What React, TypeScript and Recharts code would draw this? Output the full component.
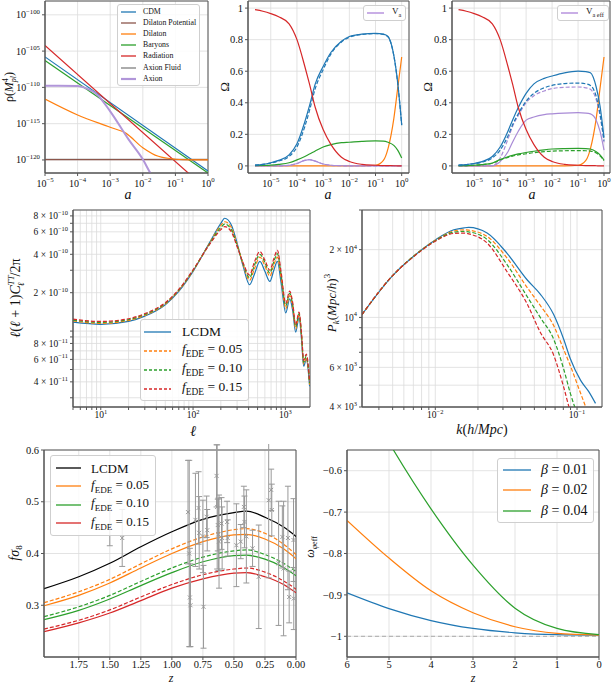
import React from "react";
import {
  ComposedChart,
  Line,
  Scatter,
  ErrorBar,
  XAxis,
  YAxis,
  CartesianGrid,
  Legend,
  ReferenceArea,
  ReferenceLine,
} from "recharts";

const FONT = "'Liberation Serif', 'DejaVu Serif', serif";
const BLUE = "#1f77b4";
const ORANGE = "#ff7f0e";
const GREEN = "#2ca02c";
const RED = "#d62728";
const BROWN = "#8c564b";
const GRAY = "#7f7f7f";
const LAVENDER = "#b196d9";
const PURPLE_L = "#a98bd6";
const GRID = "#dcdcdc";
const SPINE = "#555";
const DASH = "4 2";

// ---- panel 1: energy densities rho(a) ----
const aRhoLine = [1e-5, 1];
const rhoCdm = [1.6e-106, 3e-122];
const rhoBaryons = [5e-107, 1.6e-122];
const rhoRadiation = [6e-105, 6e-125];
const rhoDilatonPot = [1.1e-120, 1.1e-120];
const rhoAxionFluid = [1.2e-120, 1.2e-120];
const aDilaton = [1e-5, 1e-4, 1e-3, 3e-3, 1e-2, 3e-2, 1e-1, 0.3, 1];
const rhoDilaton = [2.5e-112, 1.6e-114, 3.2e-116, 5e-117, 5e-119, 3.2e-120, 1.26e-120, 1e-120, 1e-120];
const aAxion = [1e-5, 1e-4, 2e-4, 4e-4, 1e-3, 3.7e-3, 1e-2, 1.7e-2, 3e-2];
const rhoAxion = [1.7e-110, 1.6e-110, 6.3e-111, 1e-111, 5e-114, 6.3e-118, 1.26e-120, 1.6e-122, 3.2e-124];
const decadeTicks = [1e-5, 1e-4, 1e-3, 1e-2, 1e-1, 1];
const rhoTicks = [1e-120, 1e-115, 1e-110, 1e-105, 1e-100];

// ---- panels 2 & 3: density fractions Omega(a) ----
const aOm = [2.5e-6, 5e-6, 1e-5, 2e-5, 5e-5, 1e-4, 2e-4, 3e-4, 5e-4, 1e-3, 2e-3, 5e-3, 1e-2, 3e-2, 0.1, 0.2, 0.3, 0.5, 0.7, 1];
const omRad = [0.99, 0.98, 0.965, 0.945, 0.9, 0.8, 0.63, 0.52, 0.37, 0.23, 0.135, 0.055, 0.028, 0.01, 0.004, 0.002, 0.0015, 0.001, 0.0005, 0.0003];
const omCdm = [0.005, 0.01, 0.02, 0.035, 0.07, 0.14, 0.28, 0.38, 0.52, 0.63, 0.72, 0.79, 0.82, 0.835, 0.84, 0.835, 0.82, 0.7, 0.53, 0.26];
const omCdmAlt = [0.005, 0.01, 0.018, 0.03, 0.06, 0.12, 0.25, 0.35, 0.49, 0.61, 0.71, 0.785, 0.815, 0.833, 0.838, 0.833, 0.818, 0.698, 0.528, 0.258];
const omBar = [0.002, 0.003, 0.005, 0.01, 0.02, 0.038, 0.06, 0.075, 0.095, 0.12, 0.135, 0.147, 0.15, 0.155, 0.158, 0.157, 0.15, 0.13, 0.1, 0.05];
const omDil = [0, 0, 0, 0, 0, 0, 0, 0, 0, 0, 0, 0, 0, 0, 0.004, 0.035, 0.11, 0.3, 0.49, 0.69];
const omVa = [0, 0, 0, 0, 0.003, 0.015, 0.035, 0.04, 0.03, 0.012, 0.004, 0.001, 0, 0, 0, 0, 0, 0, 0, 0];
const omCdmEff = [0.005, 0.008, 0.015, 0.027, 0.06, 0.12, 0.22, 0.29, 0.37, 0.46, 0.52, 0.555, 0.57, 0.59, 0.6, 0.598, 0.59, 0.5, 0.38, 0.18];
const omCdmEffDash = [0.005, 0.008, 0.014, 0.024, 0.05, 0.1, 0.19, 0.26, 0.33, 0.41, 0.46, 0.495, 0.51, 0.522, 0.525, 0.52, 0.51, 0.44, 0.33, 0.16];
const omVaEff = [0, 0, 0, 0, 0, 0.027, 0.09, 0.15, 0.22, 0.29, 0.31, 0.325, 0.33, 0.335, 0.337, 0.335, 0.33, 0.29, 0.22, 0.1];
const omVaEffDash = [0, 0, 0, 0, 0.002, 0.05, 0.17, 0.25, 0.32, 0.4, 0.445, 0.475, 0.49, 0.498, 0.5, 0.495, 0.485, 0.42, 0.32, 0.15];
const omBarEff = [0.001, 0.002, 0.004, 0.008, 0.018, 0.04, 0.058, 0.067, 0.076, 0.085, 0.093, 0.102, 0.107, 0.11, 0.111, 0.11, 0.107, 0.09, 0.07, 0.037];
const omBarEffDash = [0.001, 0.002, 0.004, 0.008, 0.017, 0.038, 0.054, 0.062, 0.07, 0.077, 0.084, 0.09, 0.094, 0.096, 0.097, 0.096, 0.094, 0.082, 0.064, 0.033];
const omTicks = [0, 0.2, 0.4, 0.6, 0.8, 1];

// ---- panel 4: CMB TT spectrum ----
const ells = [5, 10, 20, 30, 50, 70, 100, 150, 200, 220, 260, 300, 350, 410, 460, 530, 600, 680, 750, 820, 900, 1010, 1115, 1200, 1294, 1406, 1500, 1579, 1687, 1832];
const clLcdm = [1.175e-10, 1.13e-10, 1.19e-10, 1.31e-10, 1.61e-10, 2.05e-10, 2.94e-10, 4.9e-10, 7.0e-10, 7.67e-10, 6.8e-10, 4.9e-10, 3.2e-10, 2.31e-10, 2.77e-10, 3.52e-10, 2.94e-10, 2.45e-10, 3.0e-10, 3.52e-10, 2.38e-10, 1.39e-10, 1.79e-10, 1.45e-10, 9.8e-11, 1.27e-10, 8.5e-11, 5.3e-11, 6.0e-11, 3.7e-11];
const cl005 = [1.2e-10, 1.15e-10, 1.21e-10, 1.33e-10, 1.63e-10, 2.08e-10, 2.97e-10, 4.85e-10, 6.75e-10, 7.2e-10, 6.5e-10, 4.8e-10, 3.3e-10, 2.5e-10, 3.05e-10, 3.8e-10, 3.25e-10, 2.7e-10, 3.3e-10, 3.8e-10, 2.6e-10, 1.5e-10, 1.9e-10, 1.55e-10, 1.04e-10, 1.33e-10, 8.9e-11, 5.5e-11, 6.2e-11, 3.8e-11];
const cl010 = [1.22e-10, 1.17e-10, 1.23e-10, 1.35e-10, 1.65e-10, 2.1e-10, 3.0e-10, 4.8e-10, 6.5e-10, 6.9e-10, 6.25e-10, 4.7e-10, 3.35e-10, 2.62e-10, 3.25e-10, 4.0e-10, 3.45e-10, 2.85e-10, 3.5e-10, 4.05e-10, 2.75e-10, 1.58e-10, 1.98e-10, 1.62e-10, 1.08e-10, 1.37e-10, 9.2e-11, 5.7e-11, 6.4e-11, 3.9e-11];
const cl015 = [1.24e-10, 1.19e-10, 1.25e-10, 1.37e-10, 1.67e-10, 2.12e-10, 3.02e-10, 4.75e-10, 6.25e-10, 6.6e-10, 6.0e-10, 4.6e-10, 3.4e-10, 2.75e-10, 3.45e-10, 4.2e-10, 3.6e-10, 3.0e-10, 3.7e-10, 4.3e-10, 2.9e-10, 1.65e-10, 2.06e-10, 1.68e-10, 1.12e-10, 1.41e-10, 9.5e-11, 5.9e-11, 6.6e-11, 4.0e-11];
const ellTicks = [5, 6, 7, 8, 9, 10, 20, 30, 40, 50, 60, 70, 80, 90, 100, 200, 300, 400, 500, 600, 700, 800, 900, 1000];
const ellLabels = [10, 100, 1000];
const clTicks = [3e-11, 4e-11, 5e-11, 6e-11, 7e-11, 8e-11, 9e-11, 1e-10, 2e-10, 3e-10, 4e-10, 5e-10, 6e-10, 7e-10, 8e-10];
const clLabels = [4e-11, 6e-11, 8e-11, 2e-10, 4e-10, 6e-10, 8e-10];

// ---- panel 5: matter power spectrum ----
const kPk = [0.00304, 0.00508, 0.00703, 0.01, 0.0135, 0.016, 0.0172, 0.0232, 0.032, 0.0444, 0.055, 0.0684, 0.0805, 0.0897, 0.106, 0.121, 0.135];
const pkLcdm = [1.03e4, 1.55e4, 1.87e4, 2.21e4, 2.45e4, 2.5e4, 2.51e4, 2.37e4, 1.93e4, 1.47e4, 1.27e4, 1.03e4, 8.0e3, 6.55e3, 5.25e3, 4.68e3, 4.15e3];
const pk005 = [1.03e4, 1.55e4, 1.87e4, 2.2e4, 2.42e4, 2.45e4, 2.44e4, 2.29e4, 1.84e4, 1.36e4, 1.13e4, 9.2e3, 7.2e3, 6.1e3, 4.6e3, 3.7e3, 3.2e3];
const pk010 = [1.03e4, 1.55e4, 1.87e4, 2.19e4, 2.39e4, 2.41e4, 2.4e4, 2.22e4, 1.72e4, 1.24e4, 1.0e4, 8.0e3, 5.9e3, 4.6e3, 3.4e3, 2.8e3, 2.4e3];
const pk015 = [1.03e4, 1.55e4, 1.86e4, 2.18e4, 2.36e4, 2.37e4, 2.35e4, 2.14e4, 1.6e4, 1.15e4, 8.6e3, 6.8e3, 4.9e3, 3.8e3, 2.8e3, 2.3e3, 2.0e3];
const kTicks = [0.004, 0.005, 0.006, 0.007, 0.008, 0.009, 0.01, 0.02, 0.03, 0.04, 0.05, 0.06, 0.07, 0.08, 0.09, 0.1];
const kLabels = [0.01, 0.1];
const pkTicks = [4e3, 5e3, 6e3, 7e3, 8e3, 9e3, 1e4, 2e4, 3e4];
const pkLabels = [4e3, 6e3, 1e4, 2e4];

// ---- panel 6: f sigma8(z) ----
const zFs = [2.03, 1.75, 1.5, 1.25, 1.0, 0.75, 0.5, 0.4, 0.25, 0.1, 0];
const fsLcdm = [0.332, 0.355, 0.381, 0.413, 0.442, 0.466, 0.479, 0.482, 0.47, 0.451, 0.433];
const fs005Dash = [0.305, 0.326, 0.35, 0.38, 0.409, 0.432, 0.446, 0.448, 0.439, 0.418, 0.398];
const fs005 = [0.299, 0.319, 0.343, 0.372, 0.4, 0.423, 0.436, 0.437, 0.428, 0.409, 0.39];
const fs010Dash = [0.278, 0.297, 0.319, 0.346, 0.372, 0.393, 0.405, 0.407, 0.398, 0.381, 0.365];
const fs010 = [0.272, 0.29, 0.312, 0.338, 0.363, 0.384, 0.396, 0.397, 0.389, 0.373, 0.357];
const fs015Dash = [0.254, 0.271, 0.291, 0.316, 0.34, 0.359, 0.37, 0.372, 0.364, 0.347, 0.331];
const fs015 = [0.249, 0.266, 0.285, 0.309, 0.333, 0.351, 0.362, 0.363, 0.355, 0.34, 0.324];
const zObs = [1.5, 1.4, 0.87, 0.86, 0.855, 0.85, 0.81, 0.785, 0.78, 0.75, 0.745, 0.72, 0.715, 0.64, 0.635, 0.63, 0.625, 0.62, 0.6, 0.595, 0.555, 0.55, 0.48, 0.445, 0.42, 0.415, 0.4, 0.35, 0.3, 0.22, 0.2, 0.195, 0.14, 0.11, 0.1, 0.065, 0.055, 0.02, 0.018];
const fsObs = [0.455, 0.43, 0.48, 0.4, 0.315, 0.3, 0.465, 0.488, 0.44, 0.433, 0.297, 0.471, 0.445, 0.55, 0.49, 0.455, 0.437, 0.423, 0.458, 0.43, 0.461, 0.43, 0.416, 0.423, 0.49, 0.461, 0.433, 0.41, 0.355, 0.503, 0.523, 0.484, 0.381, 0.432, 0.371, 0.43, 0.316, 0.426, 0.313];
const fsErr = [0.04, 0.055, 0.1, 0.18, 0.095, 0.08, 0.09, 0.07, 0.07, 0.07, 0.08, 0.04, 0.04, 0.06, 0.12, 0.05, 0.07, 0.09, 0.05, 0.06, 0.04, 0.035, 0.08, 0.033, 0.04, 0.05, 0.09, 0.035, 0.1, 0.15, 0.04, 0.05, 0.12, 0.06, 0.13, 0.1, 0.05, 0.08, 0.06];
const zFsTicks = [0, 0.25, 0.5, 0.75, 1, 1.25, 1.5, 1.75];
const fsTicks = [0.3, 0.4, 0.5, 0.6];

// ---- panel 7: effective equation of state ----
const zW = [6, 5, 4, 3, 2, 1, 0];
const w001 = [-0.895, -0.933, -0.962, -0.981, -0.9915, -0.996, -0.997];
const w002 = [-0.72, -0.811, -0.89, -0.943, -0.977, -0.993, -0.997];
const w004 = [-0.35, -0.532, -0.692, -0.828, -0.932, -0.981, -0.996];
const zWTicks = [0, 1, 2, 3, 4, 5, 6];
const wTicks = [-1, -0.9, -0.8, -0.7, -0.6];

const zip = (xs: number[], ys: number[]) => xs.map((x, i) => ({ x, y: ys[i] }));

type Lab = null | string | { base: string; exp: string };
const expStr = (e: number) => (e < 0 ? `\u2212${-e}` : `${e}`);
const near = (list: number[], v: number) => list.some((s) => Math.abs(s / v - 1) < 1e-6);
const fmtPow = (v: number): Lab => ({ base: "10", exp: expStr(Math.round(Math.log10(v))) });
const fmtSci = (shown: number[]) => (v: number): Lab => {
  if (!near(shown, v)) return null;
  const e = Math.floor(Math.log10(v) + 1e-9);
  const m = Math.round(v / Math.pow(10, e));
  return { base: m === 1 ? "10" : `${m} \u00d7 10`, exp: expStr(e) };
};
const fmtOm = (v: number): Lab => (v === 0 ? "0" : v === 1 ? "1" : v.toFixed(1));
const fmtNeg = (v: number): Lab => (v === -1 ? "\u22121" : `\u2212${Math.abs(v).toFixed(1)}`);

const makeTick = (fmt: (v: number) => Lab, side: "x" | "y", fs: number, dyX = 0.85) => (p: any) => {
  const lab = fmt(p.payload.value);
  if (lab === null) return <g />;
  return (
    <text
      x={p.x}
      y={p.y}
      dy={side === "x" ? fs * dyX : fs * 0.35}
      textAnchor={side === "x" ? "middle" : "end"}
      fontSize={fs}
      fontFamily={FONT}
      fill="#111"
    >
      {typeof lab === "string" ? (
        lab
      ) : (
        <>
          <tspan>{lab.base}</tspan>
          <tspan dy={-fs * 0.45} fontSize={fs * 0.68}>
            {lab.exp}
          </tspan>
        </>
      )}
    </text>
  );
};

type Frame = { l: number; t: number; r: number; b: number; yw: number; xh: number };
const PAD = 6;
const PAD_R = 14;
const box = (f: Frame) => ({
  style: { position: "absolute" as const, left: f.l - f.yw, top: f.t - PAD },
  width: f.r - f.l + f.yw + PAD_R,
  height: f.b - f.t + f.xh + PAD,
  margin: { top: PAD, right: PAD_R, bottom: 0, left: 0 },
});
const legendAt = (f: Frame, x: number, y: number) => ({
  left: x - (f.l - f.yw),
  top: y - (f.t - PAD),
  width: "auto",
  height: "auto",
});

const curve = (key: string, xs: number[], ys: number[], color: string, dash?: string, w = 1.2) => (
  <Line
    key={key}
    name={key}
    data={zip(xs, ys)}
    dataKey="y"
    type="monotone"
    stroke={color}
    strokeWidth={w}
    strokeDasharray={dash}
    dot={false}
    activeDot={false}
    isAnimationActive={false}
  />
);

type Item = { label: React.ReactNode; color: string; dash?: string; w?: number };
type LegOpts = { fs: number; row: number; line: number; gap: number; pad: string };
const legendContent = (items: Item[], o: LegOpts) => () => (
  <div
    style={{
      background: "rgba(255,255,255,0.85)",
      border: "1px solid #cfcfcf",
      borderRadius: 3,
      padding: o.pad,
      fontFamily: FONT,
      fontSize: o.fs,
      color: "#111",
      lineHeight: 1,
      whiteSpace: "nowrap",
    }}
  >
    {items.map((it, i) => (
      <div key={i} style={{ display: "flex", alignItems: "center", height: o.row }}>
        <svg width={o.line} height={6} style={{ marginRight: o.gap, flex: "none" }}>
          <line x1={0} y1={3} x2={o.line} y2={3} stroke={it.color} strokeWidth={it.w ?? 1.3} strokeDasharray={it.dash} />
        </svg>
        <span>{it.label}</span>
      </div>
    ))}
  </div>
);

const fEde = (v: string) => (
  <span>
    <i>f</i>
    <sub style={{ fontSize: "0.7em" }}>EDE</sub> = {v}
  </span>
);

const frameRect = (x1: number, x2: number, y1: number, y2: number) => (
  <ReferenceArea x1={x1} x2={x2} y1={y1} y2={y2} fill="none" stroke={SPINE} strokeWidth={1} ifOverflow="visible" />
);

const axisCommon = { tickSize: 3, tickMargin: 2, stroke: SPINE, interval: 0 as const, allowDataOverflow: true };

// ---------------- panels ----------------
const F1: Frame = { l: 45, t: 1, r: 208, b: 173, yw: 45, xh: 24 };
const RhoPanel = () => {
  const b = box(F1);
  const items: Item[] = [
    { label: "CDM", color: BLUE },
    { label: "Dilaton Potential", color: BROWN },
    { label: "Dilaton", color: ORANGE },
    { label: "Baryons", color: GREEN },
    { label: "Radiation", color: RED },
    { label: "Axion Fluid", color: GRAY },
    { label: "Axion", color: LAVENDER, w: 2.2 },
  ];
  return (
    <div style={b.style}>
      <ComposedChart width={b.width} height={b.height} margin={b.margin}>
        <CartesianGrid stroke={GRID} strokeWidth={0.8} />
        <XAxis dataKey="x" type="number" scale="log" domain={[1e-5, 1]} ticks={decadeTicks} height={F1.xh} tick={makeTick(fmtPow, "x", 10)} {...axisCommon} />
        <YAxis type="number" scale="log" domain={[1.6e-122, 8e-99]} ticks={rhoTicks} width={F1.yw} tick={makeTick(fmtPow, "y", 10)} {...axisCommon} />
        {curve("CDM", aRhoLine, rhoCdm, BLUE)}
        {curve("Baryons", aRhoLine, rhoBaryons, GREEN)}
        {curve("Radiation", aRhoLine, rhoRadiation, RED)}
        {curve("Axion Fluid", aRhoLine, rhoAxionFluid, GRAY)}
        {curve("Dilaton Potential", aRhoLine, rhoDilatonPot, BROWN)}
        {curve("Dilaton", aDilaton, rhoDilaton, ORANGE)}
        {curve("Axion", aAxion, rhoAxion, LAVENDER, undefined, 2)}
        {frameRect(1e-5, 1, 1.6e-122, 8e-99)}
        <Legend
          layout="vertical"
          align="center"
          verticalAlign="middle"
          wrapperStyle={legendAt(F1, 117, 4)}
          content={legendContent(items, { fs: 7.8, row: 11.2, line: 15, gap: 7, pad: "1px 3px" })}
        />
      </ComposedChart>
    </div>
  );
};

const OmegaPanel = ({ f, eff }: { f: Frame; eff: boolean }) => {
  const b = box(f);
  const dom: [number, number] = eff ? [1.4e-6, 1.7] : [1.35e-6, 1.9];
  const items: Item[] = [
    {
      label: (
        <span>
          V<sub style={{ fontSize: "0.7em" }}>{eff ? "a eff" : "a"}</sub>
        </span>
      ),
      color: "#c9aee6",
      w: 2,
    },
  ];
  return (
    <div style={b.style}>
      <ComposedChart width={b.width} height={b.height} margin={b.margin}>
        <CartesianGrid stroke={GRID} strokeWidth={0.8} />
        <XAxis dataKey="x" type="number" scale="log" domain={dom} ticks={decadeTicks} height={f.xh} tick={makeTick(fmtPow, "x", 10)} {...axisCommon} />
        <YAxis type="number" domain={[-0.045, 1.045]} ticks={omTicks} width={f.yw} tick={makeTick(fmtOm, "y", 10.5)} {...axisCommon} />
        {curve("Dilaton", aOm, omDil, ORANGE)}
        {curve("Va dash", aOm, eff ? omVaEffDash : omVa, PURPLE_L, DASH)}
        {curve("Va", aOm, eff ? omVaEff : omVa, PURPLE_L)}
        {eff ? curve("Baryons dash", aOm, omBarEffDash, GREEN, DASH) : null}
        {curve("Baryons", aOm, eff ? omBarEff : omBar, GREEN)}
        {curve("CDM dash", aOm, eff ? omCdmEffDash : omCdmAlt, BLUE, DASH)}
        {curve("CDM", aOm, eff ? omCdmEff : omCdm, BLUE)}
        {curve("Radiation", aOm, omRad, RED)}
        {frameRect(dom[0], dom[1], -0.045, 1.045)}
        <Legend
          layout="vertical"
          align="center"
          verticalAlign="middle"
          wrapperStyle={legendAt(f, eff ? 557 : 363, 5)}
          content={legendContent(items, { fs: 9, row: 14, line: 17, gap: 8, pad: "0 4px 0 3px" })}
        />
      </ComposedChart>
    </div>
  );
};

const F4: Frame = { l: 73, t: 210, r: 310, b: 407, yw: 70, xh: 22 };
const ClPanel = () => {
  const b = box(F4);
  const items: Item[] = [
    { label: "LCDM", color: BLUE },
    { label: fEde("0.05"), color: ORANGE, dash: "3 2" },
    { label: fEde("0.10"), color: GREEN, dash: "3 2" },
    { label: fEde("0.15"), color: RED, dash: "3 2" },
  ];
  return (
    <div style={b.style}>
      <ComposedChart width={b.width} height={b.height} margin={b.margin}>
        <CartesianGrid stroke={GRID} strokeWidth={0.8} />
        <XAxis dataKey="x" type="number" scale="log" domain={[5, 1850]} ticks={ellTicks} height={F4.xh} tick={makeTick(fmtSci(ellLabels), "x", 9.5)} {...axisCommon} tickMargin={0} />
        <YAxis type="number" scale="log" domain={[2.54e-11, 8.9e-10]} ticks={clTicks} width={F4.yw} tick={makeTick(fmtSci(clLabels), "y", 9.5)} {...axisCommon} />
        {curve("LCDM", ells, clLcdm, BLUE)}
        {curve("f005", ells, cl005, ORANGE, DASH)}
        {curve("f010", ells, cl010, GREEN, DASH)}
        {curve("f015", ells, cl015, RED, DASH)}
        {frameRect(5, 1850, 2.54e-11, 8.9e-10)}
        <Legend
          layout="vertical"
          align="center"
          verticalAlign="middle"
          wrapperStyle={legendAt(F4, 140, 319)}
          content={legendContent(items, { fs: 13.5, row: 19, line: 27, gap: 11, pad: "2px 6px 2px 3px" })}
        />
      </ComposedChart>
    </div>
  );
};

const F5: Frame = { l: 362, t: 210, r: 602, b: 407, yw: 60, xh: 22 };
const PkPanel = () => {
  const b = box(F5);
  return (
    <div style={b.style}>
      <ComposedChart width={b.width} height={b.height} margin={b.margin}>
        <CartesianGrid stroke={GRID} strokeWidth={0.8} />
        <XAxis dataKey="x" type="number" scale="log" domain={[0.00304, 0.15]} ticks={kTicks} height={F5.xh} tick={makeTick(fmtSci(kLabels), "x", 9.5)} {...axisCommon} tickMargin={0} />
        <YAxis type="number" scale="log" domain={[4e3, 3e4]} ticks={pkTicks} width={F5.yw} tick={makeTick(fmtSci(pkLabels), "y", 9.5)} {...axisCommon} />
        {curve("LCDM", kPk, pkLcdm, BLUE)}
        {curve("f005", kPk, pk005, ORANGE, DASH)}
        {curve("f010", kPk, pk010, GREEN, DASH)}
        {curve("f015", kPk, pk015, RED, DASH)}
        {frameRect(0.00304, 0.15, 4e3, 3e4)}
      </ComposedChart>
    </div>
  );
};

const F6: Frame = { l: 44, t: 450, r: 296, b: 657, yw: 40, xh: 22 };
const obsPts = zObs.map((z, i) => ({ x: z, y: fsObs[i], e: fsErr[i] }));
const crossShape = (p: any) => (
  <path
    d={`M${p.cx - 2},${p.cy - 2}L${p.cx + 2},${p.cy + 2}M${p.cx - 2},${p.cy + 2}L${p.cx + 2},${p.cy - 2}`}
    stroke="#999"
    strokeWidth={1}
  />
);
const FsPanel = () => {
  const b = box(F6);
  const items: Item[] = [
    { label: "LCDM", color: "#000" },
    { label: fEde("0.05"), color: ORANGE },
    { label: fEde("0.10"), color: GREEN },
    { label: fEde("0.15"), color: RED },
  ];
  return (
    <div style={b.style}>
      <ComposedChart width={b.width} height={b.height} margin={b.margin}>
        <CartesianGrid stroke={GRID} strokeWidth={0.8} />
        <XAxis dataKey="x" type="number" reversed domain={[0, 2.03]} ticks={zFsTicks} height={F6.xh} tick={makeTick((v) => v.toFixed(2), "x", 10.5, 0.75)} {...axisCommon} tickMargin={0} />
        <YAxis dataKey="y" type="number" domain={[0.2, 0.6]} ticks={fsTicks} width={F6.yw} tick={makeTick((v) => v.toFixed(1), "y", 10.5)} {...axisCommon} />
        {curve("LCDM", zFs, fsLcdm, "#000")}
        {curve("f005d", zFs, fs005Dash, ORANGE, DASH)}
        {curve("f005", zFs, fs005, ORANGE)}
        {curve("f010d", zFs, fs010Dash, GREEN, DASH)}
        {curve("f010", zFs, fs010, GREEN)}
        {curve("f015d", zFs, fs015Dash, RED, DASH)}
        {curve("f015", zFs, fs015, RED)}
        <Scatter name="data" data={obsPts} dataKey="y" shape={crossShape} isAnimationActive={false}>
          <ErrorBar dataKey="e" direction="y" width={3} stroke="#999" strokeWidth={1} />
        </Scatter>
        {frameRect(0, 2.03, 0.2, 0.6)}
        <Legend
          layout="vertical"
          align="center"
          verticalAlign="middle"
          wrapperStyle={legendAt(F6, 50, 455)}
          content={legendContent(items, { fs: 13, row: 18.3, line: 25, gap: 10, pad: "3px 6px 3px 5px" })}
        />
      </ComposedChart>
    </div>
  );
};

const F7: Frame = { l: 347, t: 450, r: 599, b: 657, yw: 45, xh: 22 };
const WPanel = () => {
  const b = box(F7);
  const beta = (v: string) => (
    <span>
      <i>β</i> = {v}
    </span>
  );
  const items: Item[] = [
    { label: beta("0.01"), color: BLUE },
    { label: beta("0.02"), color: ORANGE },
    { label: beta("0.04"), color: GREEN },
  ];
  return (
    <div style={b.style}>
      <ComposedChart width={b.width} height={b.height} margin={b.margin}>
        <CartesianGrid stroke={GRID} strokeWidth={0.8} />
        <XAxis dataKey="x" type="number" reversed domain={[0, 6]} ticks={zWTicks} height={F7.xh} tick={makeTick((v) => String(v), "x", 10.5, 0.75)} {...axisCommon} tickMargin={0} />
        <YAxis type="number" domain={[-1.05, -0.55]} ticks={wTicks} width={F7.yw} tick={makeTick(fmtNeg, "y", 10.5)} {...axisCommon} />
        <ReferenceLine y={-1} stroke="#aaa" strokeDasharray="4 3" strokeWidth={1} />
        {curve("b001", zW, w001, BLUE)}
        {curve("b002", zW, w002, ORANGE)}
        {curve("b004", zW, w004, GREEN)}
        {frameRect(0, 6, -1.05, -0.55)}
        <Legend
          layout="vertical"
          align="center"
          verticalAlign="middle"
          wrapperStyle={legendAt(F7, 497, 458)}
          content={legendContent(items, { fs: 14, row: 20.3, line: 28, gap: 10, pad: "1px 6px 1px 5px" })}
        />
      </ComposedChart>
    </div>
  );
};

const T = ({ x, y, rot, fs = 13, italic, children }: any) => (
  <text
    transform={`translate(${x},${y})${rot ? " rotate(-90)" : ""}`}
    fontSize={fs}
    textAnchor="middle"
    fontStyle={italic ? "italic" : undefined}
  >
    {children}
  </text>
);

const AxisTitles = () => (
  <svg
    width={613}
    height={685}
    style={{ position: "absolute", left: 0, top: 0, pointerEvents: "none" }}
    fontFamily={FONT}
    fill="#111"
  >
    <T x={128} y={199} fs={14} italic>a</T>
    <T x={328} y={199} fs={14} italic>a</T>
    <T x={532} y={199} fs={14} italic>a</T>
    <T x={13} y={87} rot fs={12}>
      ρ(<tspan fontStyle="italic">M</tspan>
      <tspan fontSize={8} dy={-5}>4</tspan>
      <tspan fontSize={8} dx={-4} dy={8} fontStyle="italic">pl</tspan>
      <tspan dy={-3}>)</tspan>
    </T>
    <T x={229} y={87} rot fs={13}>Ω</T>
    <T x={432} y={87} rot fs={13}>Ω</T>
    <T x={193} y={436} fs={15} italic>ℓ</T>
    <T x={20} y={298} rot fs={14}>
      <tspan fontStyle="italic">ℓ</tspan>(<tspan fontStyle="italic">ℓ</tspan> + 1)<tspan fontStyle="italic">C</tspan>
      <tspan fontSize={9} dy={-6} fontStyle="italic">TT</tspan>
      <tspan fontSize={9} dx={-11} dy={10} fontStyle="italic">ℓ</tspan>
      <tspan dx={6} dy={-4}>/2π</tspan>
    </T>
    <T x={482} y={434} fs={14}>
      <tspan fontStyle="italic">k</tspan>(<tspan fontStyle="italic">h</tspan>/<tspan fontStyle="italic">Mpc</tspan>)
    </T>
    <T x={336} y={303} rot fs={13}>
      <tspan fontStyle="italic">P</tspan>
      <tspan fontSize={9} dy={3} fontStyle="italic">k</tspan>
      <tspan dy={-3}>(</tspan>
      <tspan fontStyle="italic">Mpc</tspan>/<tspan fontStyle="italic">h</tspan>)
      <tspan fontSize={9} dy={-6}>3</tspan>
    </T>
    <T x={171} y={682} fs={12} italic>z</T>
    <T x={473} y={682} fs={12} italic>z</T>
    <T x={19} y={553} rot fs={14}>
      <tspan fontStyle="italic">fσ</tspan>
      <tspan fontSize={9} dy={3}>8</tspan>
    </T>
    <T x={314} y={547} rot fs={12}>
      <tspan fontStyle="italic">ω</tspan>
      <tspan fontSize={8} dy={3}>
        <tspan fontStyle="italic">φ</tspan>eff
      </tspan>
    </T>
  </svg>
);

const F2: Frame = { l: 248, t: 1, r: 409, b: 173, yw: 40, xh: 24 };
const F3: Frame = { l: 452, t: 1, r: 610, b: 173, yw: 40, xh: 24 };

export default function App() {
  return (
    <div
      style={{
        position: "absolute",
        left: 0,
        top: 0,
        width: 613,
        height: 685,
        overflow: "hidden",
        background: "#fff",
        fontFamily: FONT,
      }}
    >
      <RhoPanel />
      <OmegaPanel f={F2} eff={false} />
      <OmegaPanel f={F3} eff={true} />
      <ClPanel />
      <PkPanel />
      <FsPanel />
      <WPanel />
      <AxisTitles />
    </div>
  );
}
